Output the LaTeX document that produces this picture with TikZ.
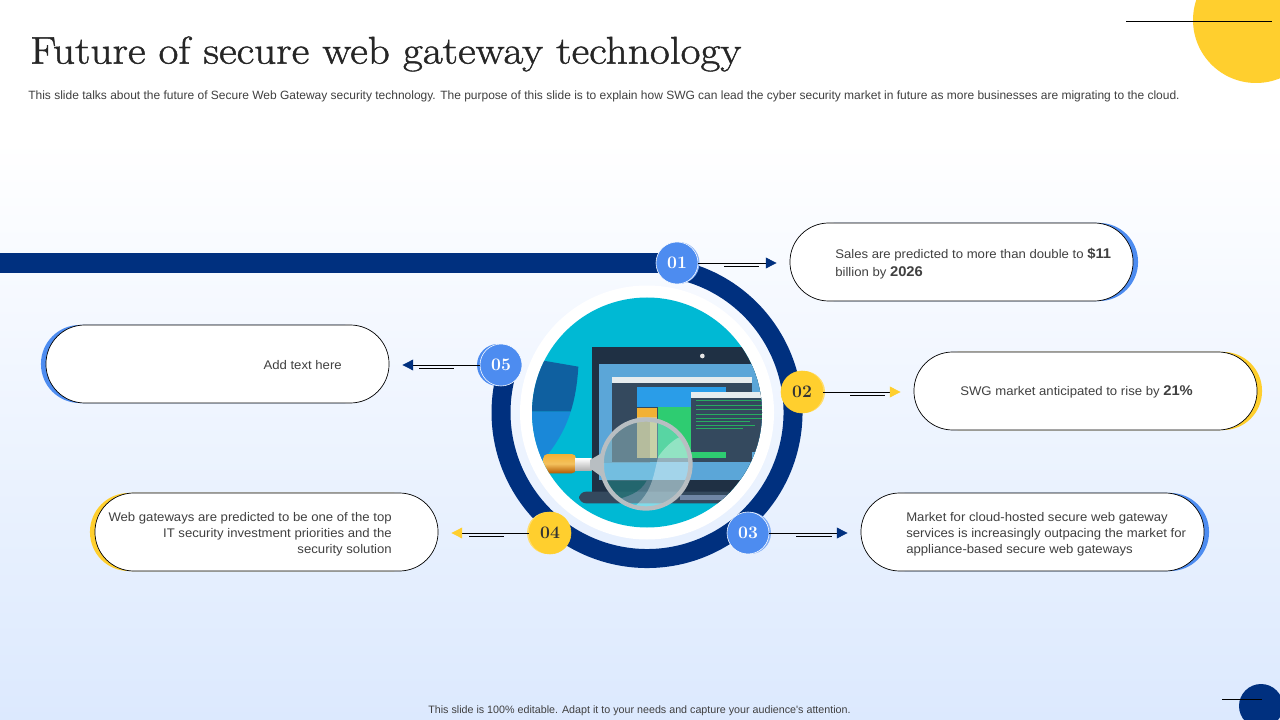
\documentclass[tikz,border=0pt]{standalone}
\usepackage{fontspec}
\setmainfont{Latin Modern Roman}
\newfontfamily\titlefont[FakeStretch=1.12,FakeBold=1.2]{Latin Modern Roman}
\newfontfamily\bodyfont[FakeStretch=1.05]{Liberation Sans}
\newfontfamily\plainfont{Liberation Sans}
\usetikzlibrary{arrows.meta, positioning}
\definecolor{navy}{HTML}{00307F}
\definecolor{skyblue}{HTML}{4D8CF0}
\definecolor{sunny}{HTML}{FFCF2E}
\definecolor{bgblue}{HTML}{DCE9FE}
\definecolor{bodygray}{HTML}{404040}
\definecolor{discteal}{HTML}{00B9D4}
\definecolor{shielddark}{HTML}{0F60A0}
\definecolor{shieldlight}{HTML}{1A88D8}
\definecolor{laptopdark}{HTML}{1F3044}
\definecolor{screenblue}{HTML}{5BA6D8}
\definecolor{windowdark}{HTML}{34495E}
\definecolor{titlebar}{HTML}{E6ECEE}
\definecolor{panelblue}{HTML}{2A9DE8}
\definecolor{panelgreen}{HTML}{2ECC71}
\definecolor{linegreen}{HTML}{27AE60}
\definecolor{barorange}{HTML}{F2B134}
\definecolor{bartan}{HTML}{E8C67A}
\definecolor{lensring}{HTML}{B8BEC2}
\definecolor{slotgray}{HTML}{6F86A6}
\tikzstyle{pill} = [
    draw=black,
    fill=white,
    line width=0.5pt,
    rounded corners=0.97cm,
    minimum width=8.575cm,
    minimum height=1.95cm,
    inner sep=0pt
]
\tikzstyle{pillback} = [pill, draw=none]
\tikzstyle{badge} = [
    circle,
    draw=white,
    line width=0.4pt,
    minimum size=1.05cm,
    inner sep=0pt,
    font=\fontsize{12.5}{14}\selectfont\bfseries
]
\tikzstyle{bodytext} = [
    text=bodygray,
    inner sep=0pt,
    font=\bodyfont\fontsize{8.9}{11.4}\selectfont
]
\tikzstyle{arrow} = [
    line width=0.6pt,
    draw=black,
    shorten >=13*0.025cm
]
\newcommand{\bignum}[1]{{\fontsize{10}{11.4}\selectfont\bfseries #1}}

\begin{document}
\begin{tikzpicture}[x=0.025cm,y=-0.025cm]
\useasboundingbox (0,0) rectangle (1280,720);
\clip (0,0) rectangle (1280,720);

% Page background
\fill[white] (0,0) rectangle (1280,720);
\shade[top color=white, bottom color=bgblue] (0,140) rectangle (1280,720);

% Corner decoration
\fill[sunny] (1256,20) circle[radius=63];
\draw[line width=0.7pt] (1126,21) -- (1272,21);
\fill[navy] (1261,706) circle[radius=22];
\draw[line width=0.7pt] (1222,699) -- (1262,699);

% Heading
\node[anchor=west, inner sep=0pt, text=black!85] (title) at (30,54)
    {\titlefont\fontsize{27.5}{30}\selectfont Future of secure web gateway technology};
\node[bodytext, anchor=west] (subtitle) at (28,96.5)
    {\plainfont\fontsize{8.53}{10}\selectfont This slide talks about the future of Secure Web Gateway security technology. The purpose of this slide is to explain how SWG can lead the cyber security market in future as more businesses are migrating to the cloud.};
\node[bodytext] (footer) at (639.5,710.5)
    {\plainfont\fontsize{7.62}{9}\selectfont This slide is 100\% editable. Adapt it to your needs and capture your audience's attention.};

% Bar and ring
\fill[navy] (0,253) rectangle (668,273);
\draw[navy, line width=19*0.025cm] (647,412.5) +(-79:146) arc[start angle=-79, end angle=198, radius=146];
\fill[white] (647,412.5) circle[radius=127];

% Laptop picture, clipped to the disc
\begin{scope}
\clip (647,412.5) circle[radius=115];
\fill[discteal] (500,290) rectangle (790,530);
\begin{scope}[shift={(480,230)},x=0.025cm/3,y=-0.025cm/3]
% shield
\fill[shielddark] (150,385) -- (295,410) .. controls (292,460) and (285,505) .. (272,545) -- (150,545) -- cycle;
\fill[shieldlight] (150,545) -- (272,545) .. controls (255,600) and (225,650) .. (185,695) -- (150,695) -- cycle;
% laptop
\fill[laptopdark] (337,352) rectangle (900,790);
\fill[screenblue] (357,402) rectangle (880,750);
\fill[windowdark] (395,442) rectangle (815,697);
\fill[titlebar] (395,442) rectangle (815,460);
\fill[white!80!gray] (667,378) circle[radius=7];
\fill[panelblue] (472,470) rectangle (737,530);
\fill[panelgreen] (535,530) rectangle (737,685);
\fill[barorange] (472,533) rectangle (530,560);
\fill[bartan] (472,560) rectangle (530,685);
\fill[windowdark] (633,487) rectangle (850,667);
\fill[titlebar] (633,487) rectangle (850,505);
\foreach \ly/\lx in {512/845,525/845,539/845,552/845,565/845,575/810,585/825,596/790}
  \draw[linegreen, line width=0.6pt] (648,\ly) -- (\lx,\ly);
\fill[windowdark, rounded corners=5pt] (297,785) rectangle (830,820);
\fill[slotgray] (600,795) rectangle (780,810);
% handle
\shade[top color=barorange, bottom color=orange!70!black, middle color=barorange!80!white, rounded corners=3pt] (190,672) rectangle (288,730);
\shade[top color=white, bottom color=gray!60] (285,685) rectangle (335,720);
\fill[lensring] (330,690) -- (372,665) -- (372,745) -- (330,715) -- cycle;
% lens
\begin{scope}
\clip (498,702) circle[radius=130];
\fill[white!60!discteal, opacity=0.4] (360,560) rectangle (640,845);
\fill[gray, opacity=0.25] (360,560) rectangle (510,700);
\fill[white, opacity=0.35] (535,680) .. controls (570,630) and (610,610) .. (640,610) -- (640,845) -- (440,845) .. controls (520,800) and (520,730) .. (535,680) -- cycle;
\fill[teal!70!black, opacity=0.55] (360,752) -- (500,752) .. controls (480,790) and (440,800) .. (405,810) -- (360,810) -- cycle;
\end{scope}
\draw[lensring, line width=13*0.025cm/3] (498,702) circle[radius=133.5];
\end{scope}
\end{scope}

% Pill backs
\node[pillback, fill=skyblue] (s01) at (966.5,262) {};
\node[pillback, fill=sunny] (s02) at (1090.5,391) {};
\node[pillback, fill=skyblue] (s03) at (1037.5,532) {};
\node[pillback, fill=sunny] (s04) at (261.5,532) {};
\node[pillback, fill=skyblue] (s05) at (212.5,364) {};

% Pills
\node[pill] (p01) at (961.5,262) {};
\node[pill] (p02) at (1085.5,391) {};
\node[pill] (p03) at (1032.5,532) {};
\node[pill] (p04) at (266.5,532) {};
\node[pill] (p05) at (217.5,364) {};

% Pill texts
\node[bodytext, anchor=west, align=left, font=\bodyfont\fontsize{8.9}{12.3}\selectfont] (t01) at (835,263.5)
    {Sales are predicted to more than double to \bignum{\$11}\\billion by \bignum{2026}};
\node[bodytext, anchor=west] (t02) at (960,392) {SWG market anticipated to rise by \bignum{21\%}};
\node[bodytext, anchor=west, align=left] (t03) at (906,534)
    {Market for cloud-hosted secure web gateway\\services is increasingly outpacing the market for\\appliance-based secure web gateways};
\node[bodytext, anchor=east, align=right] (t04) at (392,534)
    {Web gateways are predicted to be one of the top\\IT security investment priorities and the\\security solution};
\node[bodytext, anchor=east] (t05) at (342,365) {Add text here};

% Badge crescents
\fill[skyblue!70!white] (678.5,263) circle[radius=21];
\fill[sunny!70!white] (804,392) circle[radius=21];
\fill[skyblue!70!white] (750,533) circle[radius=21];
\fill[sunny!70!white] (548,533) circle[radius=21];
\fill[skyblue] (498,365) circle[radius=21];

% Badges
\node[badge, fill=skyblue, text=white] (b01) at (677,263) {01};
\node[badge, fill=sunny, draw=sunny, text=black!80] (b02) at (802,392) {02};
\node[badge, fill=skyblue, text=white] (b03) at (748,533) {03};
\node[badge, fill=sunny, draw=sunny, text=black!80] (b04) at (550,533) {04};
\node[badge, fill=skyblue, text=white] (b05) at (501,365) {05};

% Connectors with their short second strokes
\draw[arrow, -{Stealth[length=0.27cm,width=0.27cm,inset=0pt,color=navy]}] (b01) -- (b01 -| p01.west);
\draw[arrow, -{Stealth[length=0.27cm,width=0.27cm,inset=0pt,color=sunny]}] (b02) -- (b02 -| p02.west);
\draw[arrow, -{Stealth[length=0.27cm,width=0.27cm,inset=0pt,color=navy]}] (b03) -- (b03 -| p03.west);
\draw[arrow, -{Stealth[length=0.27cm,width=0.27cm,inset=0pt,color=sunny]}] (b04) -- (b04 -| p04.east);
\draw[arrow, -{Stealth[length=0.27cm,width=0.27cm,inset=0pt,color=navy]}] (b05) -- (b05 -| p05.east);
\draw[line width=0.6pt] (724,266) -- (759,266);
\draw[line width=0.6pt] (850,395) -- (885,395);
\draw[line width=0.6pt] (796,536) -- (832,536);
\draw[line width=0.6pt] (469,536) -- (504,536);
\draw[line width=0.6pt] (419,368) -- (454,368);
\end{tikzpicture}
\end{document}
